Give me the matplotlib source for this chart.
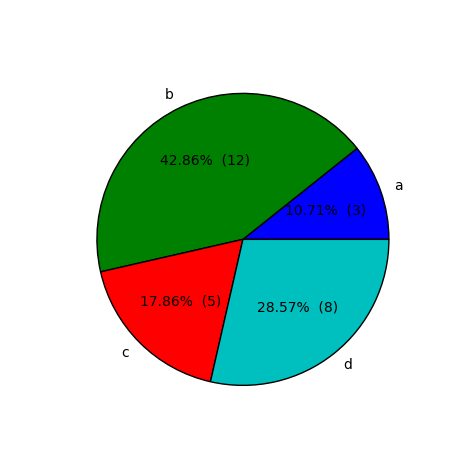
import matplotlib
matplotlib.use("Agg")
import matplotlib.pyplot as plt

labels = ["a", "b", "c", "d"]
values = [3, 12, 5, 8]
colors = ["#0000ff", "#008000", "#ff0000", "#00bfbf"]

total = sum(values)
fig = plt.figure(figsize=(4.74, 4.74), dpi=100)
ax = fig.add_subplot(111)
ax.pie(values, labels=labels, colors=colors,
       autopct=lambda p: "{:.2f}%  ({:d})".format(p, int(round(p * total / 100))),
       wedgeprops=dict(edgecolor="black", linewidth=1),
       textprops=dict(fontsize=10))
ax.set_xlim(-1.25, 1.25)
ax.set_ylim(-1.25, 1.25)
ax.set_aspect("equal")
fig.savefig("out.png", dpi=100)
